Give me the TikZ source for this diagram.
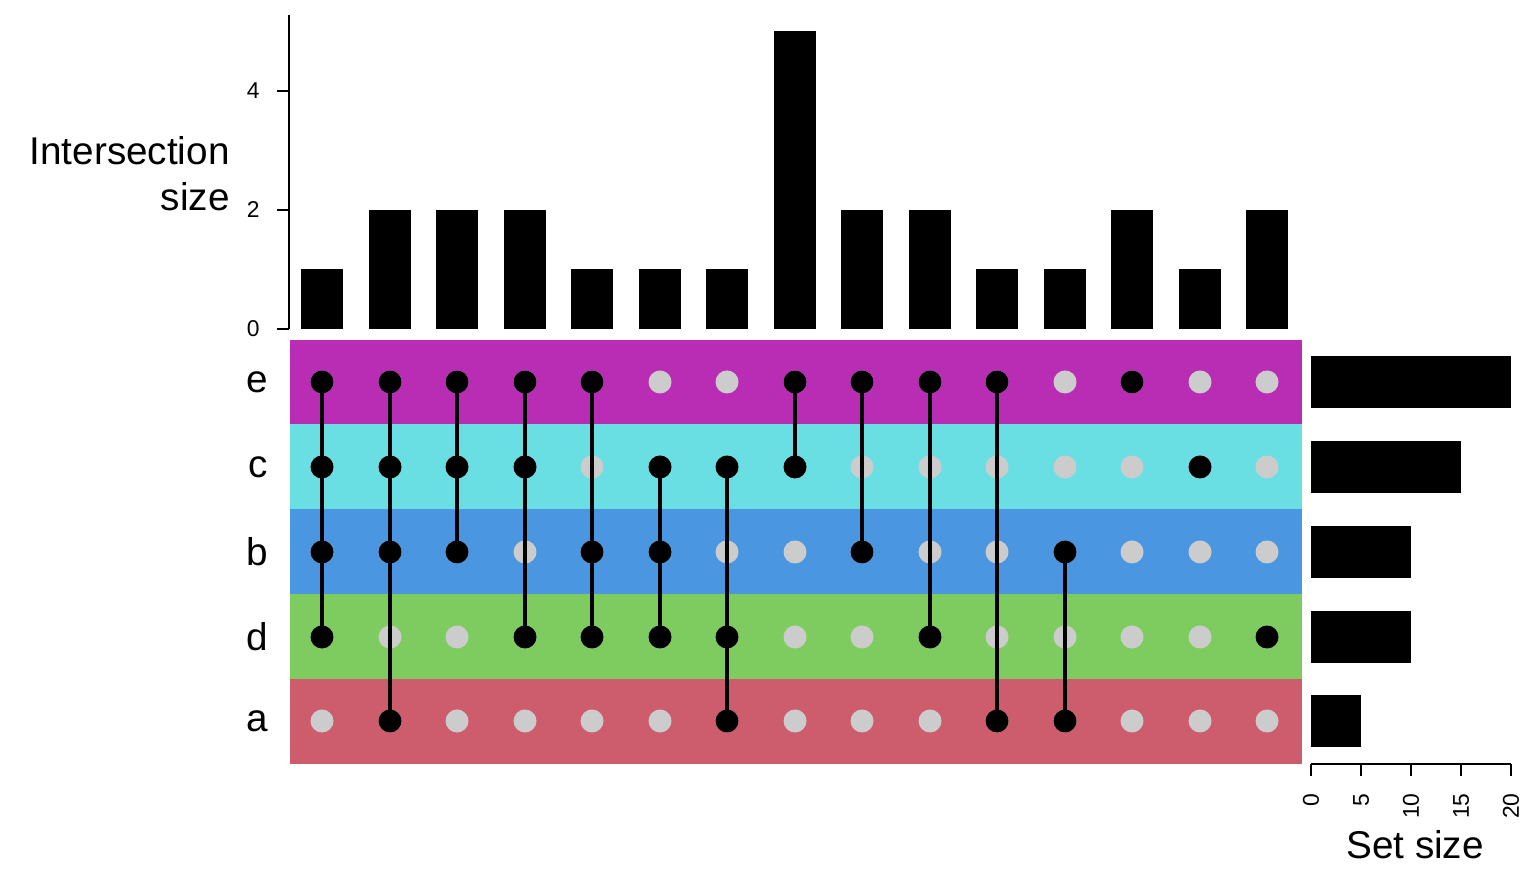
\documentclass[tikz,border=0pt]{standalone}
\usepackage{fontspec}
\setmainfont{Liberation Sans}
\begin{document}
\begin{tikzpicture}[x=0.01cm,y=-0.01cm,
  bar/.style={fill=black,draw=none},
  on/.style={circle,fill=black,inner sep=0pt,minimum size=0.23cm},
  off/.style={circle,fill=black!20,inner sep=0pt,minimum size=0.23cm},
  link/.style={line width=1.2pt},
  tick/.style={font=\fontsize{6.5}{7}\selectfont},
  big/.style={font=\fontsize{11}{13}\selectfont}]
\useasboundingbox (0,0) rectangle (1534,874);
\definecolor{ce}{HTML}{B92DB5}
\definecolor{cc}{HTML}{6ADFE3}
\definecolor{cb}{HTML}{4A96E0}
\definecolor{cd}{HTML}{7ECC60}
\definecolor{ca}{HTML}{CD5C6C}
% bands
\fill[ce] (290,340) rectangle (1302,424);
\fill[cc] (290,424) rectangle (1302,509);
\fill[cb] (290,509) rectangle (1302,594);
\fill[cd] (290,594) rectangle (1302,679);
\fill[ca] (290,679) rectangle (1302,764);
% row labels
\foreach \n/\y in {e/382,c/467,b/552,d/637,a/721}
  \node[big,anchor=east] (lab\n) at (280,\y) {\n};
% top axis
\draw[line width=0.6pt] (289,15) -- (289,329);
\foreach \v/\y in {0/329,2/210,4/91}{
  \draw[line width=0.6pt] (289,\y) -- (277,\y);
  \node[tick,anchor=east] (t\v) at (272,\y) {\v};}
\node[big,align=right,anchor=east] (ylab) at (242,174) {Intersection\\size};
% bars and matrix
\def\cols{322/1/1111-0,390/2/1110-1,457/2/1110-0,525/2/1101-0,592/1/1011-0,660/1/0111-0,727/1/0101-1,795/5/1100-0,862/2/1010-0,930/2/1001-0,997/1/1000-1,1065/1/0010-1,1132/2/1000-0,1200/1/0100-0,1267/2/0001-0}
\foreach \x/\h in {322/1,390/2,457/2,525/2,592/1,660/1,727/1,795/5,862/2,930/2,997/1,1065/1,1132/2,1200/1,1267/2}
  \fill[bar] (\x-21,329) rectangle (\x+21,329-59.5*\h);
% dots: grey everywhere first
\foreach \x in {322,390,457,525,592,660,727,795,862,930,997,1065,1132,1200,1267}
  \foreach \y in {382,467,552,637,721}
    \node[off] at (\x,\y) {};
% links
\foreach \x/\ya/\yb in {322/382/637,390/382/721,457/382/552,525/382/637,592/382/637,660/467/637,727/467/721,795/382/467,862/382/552,930/382/637,997/382/721,1065/552/721}
  \draw[link] (\x,\ya) -- (\x,\yb);
% black dots
\foreach \x/\y in {322/382,322/467,322/552,322/637,
  390/382,390/467,390/552,390/721,
  457/382,457/467,457/552,
  525/382,525/467,525/637,
  592/382,592/552,592/637,
  660/467,660/552,660/637,
  727/467,727/637,727/721,
  795/382,795/467,
  862/382,862/552,
  930/382,930/637,
  997/382,997/721,
  1065/552,1065/721,
  1132/382,1200/467,1267/637}
  \node[on] at (\x,\y) {};
% set size bars
\foreach \y/\v in {382/20,467/15,552/10,637/10,721/5}
  \fill[bar] (1311,\y-26) rectangle (1311+10*\v,\y+26);
\draw[line width=0.6pt] (1311,764) -- (1511,764);
\foreach \v in {0,5,10,15,20}{
  \draw[line width=0.6pt] (1311+10*\v,764) -- (1311+10*\v,776);
  \node[tick,rotate=90,anchor=east] (s\v) at (1311+10*\v,781) {\v};}
\node[big] (xlab) at (1415,845) {Set size};
\end{tikzpicture}
\end{document}
